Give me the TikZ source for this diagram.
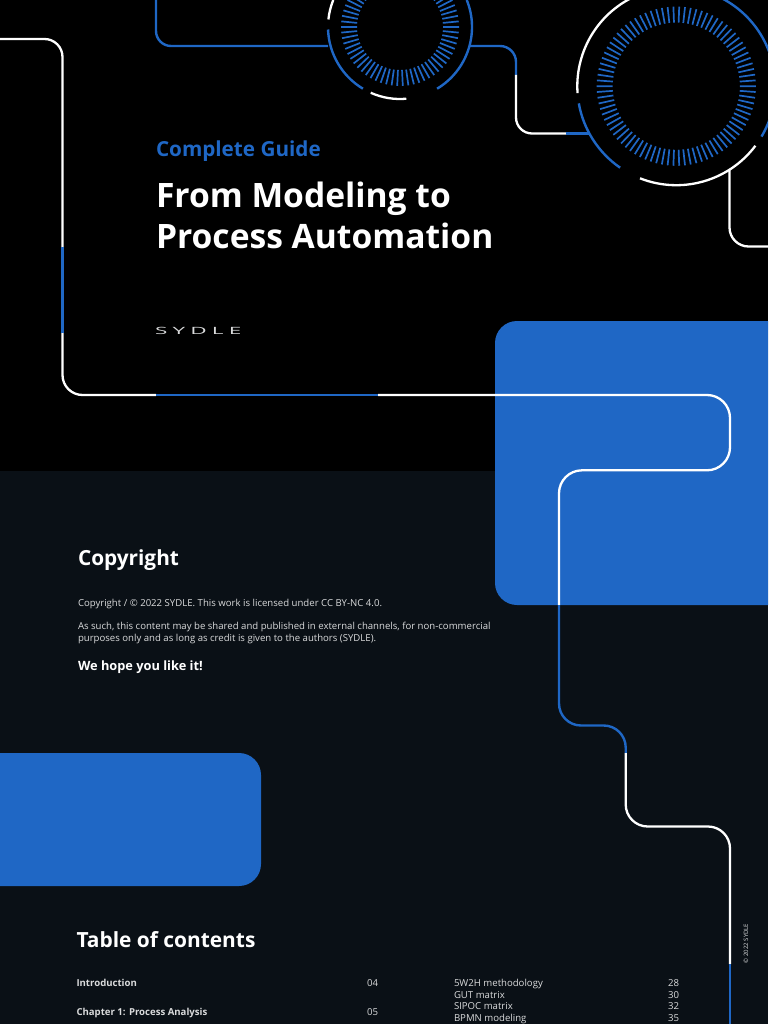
\documentclass[tikz,border=0pt]{standalone}
\usepackage{fontspec}
\setmainfont{Open Sans}
\newfontfamily\logofont[FakeStretch=2.25,LetterSpace=52]{Open Sans}
\definecolor{sydleblue}{HTML}{1F67C5}
\definecolor{pagedark}{HTML}{0A1016}
\definecolor{bodygrey}{HTML}{DADBDC}
\tikzset{
  wire/.style={line width=2.3pt, color=white},
  wireblue/.style={line width=2.4pt, color=sydleblue},
  ticks/.style={line width=1.7pt, color=sydleblue},
  txt/.style={anchor=base west, inner sep=0pt, outer sep=0pt, text=white},
  body/.style={txt, text=bodygrey, font=\fontsize{9.6}{11}\selectfont},
  num/.style={anchor=base east, inner sep=0pt, outer sep=0pt, text=bodygrey, font=\fontsize{9.6}{11}\selectfont}
}
\begin{document}
\begin{tikzpicture}[x=1pt, y=-1pt]
\useasboundingbox (0,0) rectangle (768,1024);
\clip (0,0) rectangle (768,1024);
\fill[black] (0,0) rectangle (768,471);
\fill[pagedark] (0,471) rectangle (768,1024);
% blue panels
\fill[sydleblue, rounded corners=22pt] (495,321) rectangle (810,605);
\fill[sydleblue, rounded corners=22pt] (-40,753) rectangle (261,886);
% first ring
\begin{scope}[shift={(400,27)}, x=1pt, y=1pt]
\foreach \n in {1,...,66}
    \draw[ticks] ({\n*5.4545}:43) -- ({\n*5.4545}:59);
\draw[wire] (158:72) arc[start angle=158, end angle=174, radius=72];
\draw[wireblue] (182:72) arc[start angle=182, end angle=239, radius=72];
\draw[wire] (246:72) arc[start angle=246, end angle=275, radius=72];
\draw[wireblue] (301:72) arc[start angle=301, end angle=382, radius=72];
\end{scope}
% second ring
\begin{scope}[shift={(676.3,86.2)}, x=1pt, y=1pt]
\foreach \n in {1,...,86}
    \draw[ticks] ({\n*4.186}:63.6) -- ({\n*4.186}:79.6);
\draw[wire] (118:99) arc[start angle=118, end angle=184, radius=99];
\draw[wireblue] (190:99) arc[start angle=190, end angle=235.4, radius=99];
\draw[wire] (248.5:99) arc[start angle=248.5, end angle=323, radius=99];
\draw[wireblue] (329.4:99) arc[start angle=329.4, end angle=422, radius=99];
\end{scope}
% lines between the rings
\draw[wireblue, rounded corners=15pt] (156,-5) -- (156,46) -- (328,46);
\draw[wireblue, rounded corners=16pt] (470,46) -- (516,46) -- (516,75);
\draw[wire, rounded corners=16pt] (516,75) -- (516,133.5) -- (566,133.5);
\draw[wireblue] (566,133.5) -- (589,133.5);
\draw[wire, rounded corners=19pt] (729.5,170) -- (729.5,246.5) -- (775,246.5);
% long line
\draw[wire, rounded corners=18pt] (-5,39) -- (62.5,39) -- (62.5,247);
\draw[wireblue] (62.5,247) -- (62.5,333);
\draw[wire, rounded corners=20pt] (62.5,333) -- (62.5,395) -- (156,395);
\draw[wireblue] (156,395) -- (378,395);
\draw[wire, rounded corners=23pt] (378,395) -- (730,395) -- (730,470.3) -- (559,470.3) -- (559,605);
\draw[wireblue, rounded corners=22pt] (559,605) -- (559,725.5) -- (625.7,725.5) -- (625.7,753);
\draw[wire, rounded corners=22pt] (625.7,753) -- (625.7,826.5) -- (730,826.5) -- (730,964);
\draw[wireblue] (730,964) -- (730,1030);
% texts
\node[txt, text=sydleblue, font=\fontsize{20.7}{24}\selectfont\bfseries] (guide) at (156,156.5) {Complete Guide};
\node[txt, font=\fontsize{33.6}{40}\selectfont\bfseries] (title1) at (156,208) {From Modeling to};
\node[txt, font=\fontsize{33.6}{40}\selectfont\bfseries] (title2) at (156,248) {Process Automation};
\node[txt, text=bodygrey, font=\fontsize{10}{11}\logofont] (logo) at (155,334) {SYDLE};
\node[txt, font=\fontsize{20.8}{25}\selectfont\bfseries] (copyhead) at (78,565) {Copyright};
\node[body] (copy1) at (78,606) {Copyright / © 2022 SYDLE. This work is licensed under CC BY-NC 4.0.};
\node[body] (copy2) at (78,629) {As such, this content may be shared and published in external channels, for non-commercial};
\node[body] (copy3) at (78,641) {purposes only and as long as credit is given to the authors (SYDLE).};
\node[txt, font=\fontsize{12.8}{15}\selectfont\bfseries] (hope) at (78,670) {We hope you like it!};
\node[txt, font=\fontsize{20.9}{25}\selectfont\bfseries] (tochead) at (76.5,947) {Table of contents};
\node[body, font=\fontsize{9.6}{11}\selectfont\bfseries] (intro) at (76.5,986.5) {Introduction};
\node[body, font=\fontsize{9.6}{11}\selectfont\bfseries] (chap1) at (76.5,1015) {Chapter 1: Process Analysis};
\node[num] (pintro) at (378,986.5) {04};
\node[num] (pchap1) at (378,1015) {05};
\node[body] (w2h) at (454,986.5) {5W2H methodology};
\node[body] (gut) at (454,998) {GUT matrix};
\node[body] (sipoc) at (454,1009.5) {SIPOC matrix};
\node[body] (bpmn) at (454,1021) {BPMN modeling};
\node[num] (p28) at (679,986.5) {28};
\node[num] (p30) at (679,998) {30};
\node[num] (p32) at (679,1009.5) {32};
\node[num] (p35) at (679,1021) {35};
\node[txt, text=bodygrey, rotate=90, font=\fontsize{6}{7}\selectfont] (stamp) at (748,963) {© 2022 SYDLE};
\end{tikzpicture}
\end{document}
